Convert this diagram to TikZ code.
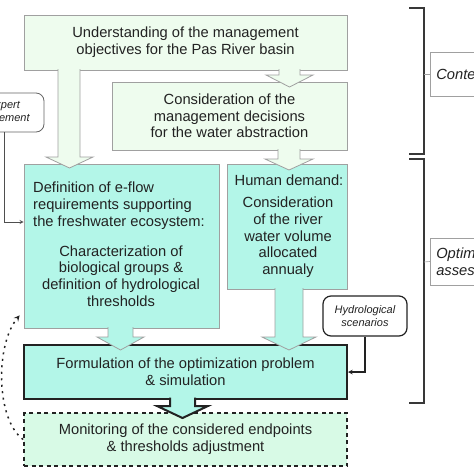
\documentclass[tikz,border=0pt]{standalone}
\usepackage{fontspec}
\setmainfont{Liberation Sans}
\usepackage{xcolor}
\usetikzlibrary{arrows}
\usetikzlibrary{shapes}
\definecolor{hellgruen}{HTML}{EEFCEE}
\definecolor{tuerkis}{HTML}{B3F6E8}
\definecolor{mint}{HTML}{D8FAE6}
\definecolor{rand}{HTML}{A0A0A0}
\definecolor{dunkel}{HTML}{222222}
\newcommand{\schriftgross}{\fontsize{14.7}{16.7}\selectfont}
\newcommand{\schriftklein}{\fontsize{11}{12.5}\selectfont}

\begin{document}
\begin{tikzpicture}[x=1pt, y=-1pt,
  kasten/.style={rectangle, draw=rand, line width=0.8pt, inner sep=0pt, text=dunkel, align=center, font=\schriftgross},
  pfeil/.style={draw=rand, line width=0.8pt, line join=miter},
  schrift/.style={inner sep=0pt, text=dunkel, font=\schriftgross},
  rund/.style={rectangle, rounded corners=8pt, draw=dunkel, fill=white, inner sep=0pt, text=dunkel, align=center, font=\schriftklein\itshape},
  etikett/.style={rectangle, draw=rand, fill=white, line width=0.6pt, anchor=west, inner xsep=6pt, inner ysep=0pt, text width=80pt, align=left, text=dunkel, font=\schriftgross\itshape},
  klammer/.style={draw=dunkel!90, line width=1.5pt},
  verbinder/.style={draw=dunkel, line width=1.1pt, -stealth}]
\useasboundingbox (0,0) rectangle (474,474);

\node[kasten, fill=hellgruen, minimum width=323pt, minimum height=55pt] (ziele) at (185.5,42.5) {Understanding of the management\\objectives for the Pas River basin};
\node[kasten, fill=hellgruen, minimum width=235pt, minimum height=68pt] (entscheidungen) at (229.5,116) {Consideration of the\\management decisions\\for the water abstraction};
\node[kasten, fill=tuerkis, minimum width=195pt, minimum height=164pt] (definition) at (121.5,246) {};
\node[kasten, fill=tuerkis, minimum width=120pt, minimum height=125pt] (bedarf) at (287,226.5) {};
\node[kasten, fill=mint, draw=dunkel, line width=1.6pt, dash pattern=on 4pt off 3.5pt, minimum width=323pt, minimum height=53pt] (monitoring) at (185.5,439.5) {Monitoring of the considered endpoints\\\& thresholds adjustment};
\node[kasten, fill=tuerkis, draw=dunkel, line width=2pt, minimum width=323pt, minimum height=54pt] (formulierung) at (185.5,372) {Formulation of the optimization problem\\\& simulation};

% Pfeile: ohne cycle, damit die Fuellung den Rand des Kastens verdeckt
\filldraw[pfeil, fill=hellgruen] (58,69) -- (58,157) -- (46,157) -- (69.5,168) -- (93,157) -- (80,157) -- (80,69);
\filldraw[pfeil, fill=hellgruen] (279,69) -- (279,75) -- (266,75) -- (289.5,87) -- (313,75) -- (300,75) -- (300,69);
\filldraw[pfeil, fill=hellgruen] (278,149) -- (278,159) -- (265,159) -- (289,170) -- (313,159) -- (300,159) -- (300,149);
\filldraw[pfeil, fill=tuerkis] (108,327) -- (108,337) -- (97,337) -- (120.5,350) -- (144,337) -- (133,337) -- (133,327);
\filldraw[pfeil, fill=tuerkis] (275,288) -- (275,337) -- (262,337) -- (289,350) -- (316,337) -- (303,337) -- (303,288);
\filldraw[pfeil, draw=dunkel, line width=2pt, fill=tuerkis] (170,397.5) -- (170,406) -- (157,406) -- (182.5,418) -- (208,406) -- (195,406) -- (195,397.5);

\node[schrift, align=left, anchor=west] (defkopf) at (33,205.7) {Definition of e-flow\\requirements supporting\\the freshwater ecosystem:};
\node[schrift, align=center] (charakter) at (121,276) {Characterization of\\biological groups \&\\definition of hydrological\\thresholds};
\node[schrift] (bedarfkopf) at (289,180) {Human demand:};
\node[schrift, align=center] (bedarftext) at (288,237.4) {Consideration\\of the river\\water volume\\allocated\\annualy};

\node[rund, line width=1.2pt, minimum width=84pt, minimum height=40pt] (szenarien) at (365,316) {Hydrological\\scenarios};
\node[rund, draw=dunkel!70, line width=0.8pt, minimum width=80pt, minimum height=39pt] (experte) at (4,112.5) {Expert\\judgement};

\draw[verbinder, line width=0.8pt, draw=dunkel!80] (experte.south) |- ([yshift=24pt]definition.west);
\draw[verbinder] (szenarien.south) |- (formulierung.east);
\draw[draw=dunkel, line width=1.5pt, dash pattern=on 2pt off 4.5pt, -stealth] (monitoring.west) .. controls (-4,420) and (-5,345) .. ([xshift=-4pt,yshift=13pt]definition.south west);

\draw[klammer] (409,8) -- (424,8) -- (424,154) -- (409,154);
\draw[klammer] (409,159) -- (424,159) -- (424,403) -- (409,403);
\coordinate (klammeroben) at (424,74);
\coordinate (klammerunten) at (424,262);
\node[etikett, minimum height=44pt] (kontext) at (430,74) {Context};
\node[etikett, minimum height=47pt] (optimierung) at (430,261.5) {Optimization\\assessment};
\draw[rand, line width=0.6pt] (klammeroben) -- (kontext.west);
\draw[rand, line width=0.6pt] (klammerunten) -- (optimierung.west);
\end{tikzpicture}
\end{document}
